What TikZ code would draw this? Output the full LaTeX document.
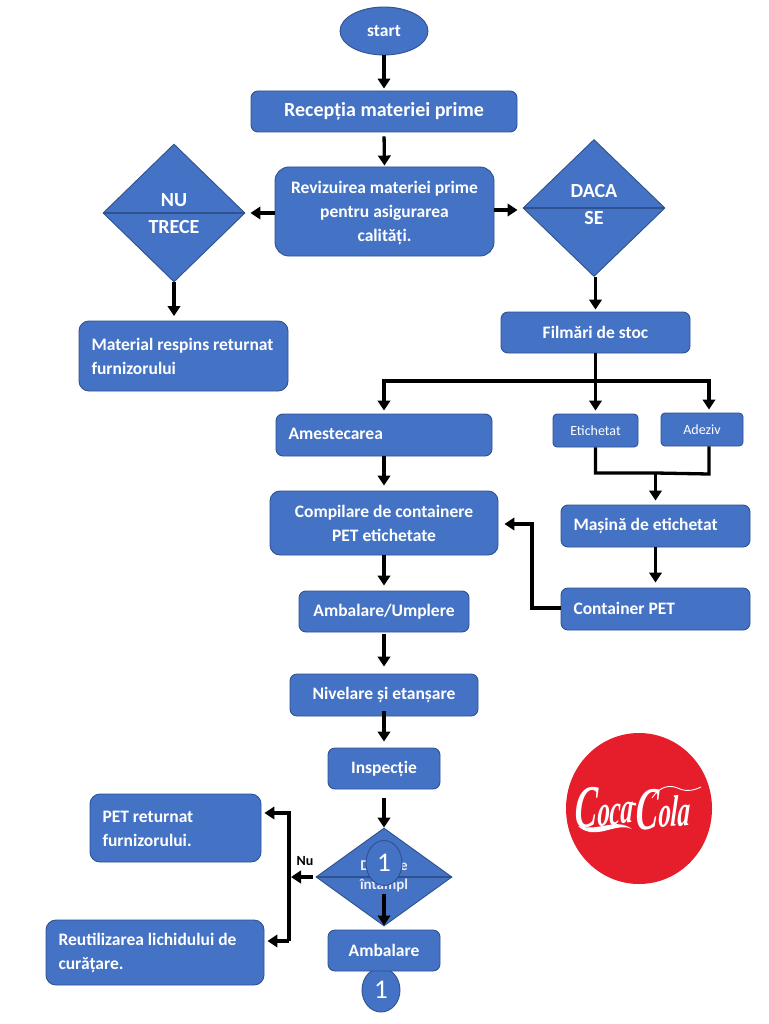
\documentclass[tikz,border=0pt]{standalone}
\usepackage{fontspec}
\setmainfont{Carlito}
\newfontfamily\logofont{Liberation Serif}
\usetikzlibrary{shapes.geometric,arrows.meta}
\definecolor{boxblue}{HTML}{4472C4}
\definecolor{boxedge}{HTML}{2F528F}
\definecolor{cocared}{HTML}{E61D2B}
\newcommand{\sz}[2]{\fontsize{#1}{#2}\selectfont}
\tikzset{
  x=1pt,y=-1pt,
  fillshape/.style={fill=boxblue,draw=boxedge,line width=0.9pt,inner sep=0pt,text=white,font=\bfseries\sz{17.5}{24}},
  boxc/.style={fillshape,rectangle,rounded corners=7pt,align=center},
  boxl/.style={fillshape,rectangle,rounded corners=10pt,align=flush left,inner xsep=12.5pt,text width=#1-25pt},
  thin box/.style={fillshape,rectangle,rounded corners=4pt,align=center,font=\sz{14}{16}},
  dia/.style={fillshape,diamond},
  oval/.style={fillshape,ellipse},
  big/.style={text=white,inner sep=0pt,font=\bfseries\sz{20}{22}},
  divider/.style={boxedge,line width=1.2pt},
  arr/.style={draw=black,line width=3.3pt,line join=miter,-{Triangle[length=10pt,width=12.5pt]}},
  seg/.style={draw=black,line width=3.3pt,line join=miter},
  logotext/.style={text=white,inner sep=0pt,xscale=0.56,xslant=0.14,rotate=3,font=\logofont\bfseries\itshape\sz{44}{46}},
}
\begin{document}
\begin{tikzpicture}
\useasboundingbox (0,0) rectangle (768,1024);
\fill[white] (0,0) rectangle (768,1024);
% top
\node[oval,minimum width=88pt,minimum height=48pt] (start) at (384,31) {start};
\node[boxc,minimum width=266pt,minimum height=41pt,font=\bfseries\sz{20}{22}] (recep) at (384,111.5) {Recepția materiei prime};
\node[boxc,rounded corners=14pt,minimum width=219pt,minimum height=89pt] (rev) at (384.5,211.5) {\rule{0pt}{15pt}Revizuirea materiei prime\\pentru asigurarea\\calități.};
% diamonds
\node[dia,minimum width=142pt,minimum height=138pt] (nu) at (174,213) {};
\draw[divider] (nu.west) -- (nu.east);
\node[big] (nut) at (174,200) {NU};
\node[big] (nub) at (174,227) {TRECE};
\node[dia,minimum width=142pt,minimum height=137pt] (daca) at (594,208) {};
\draw[divider] (daca.west) -- (daca.east);
\node[big] (dat) at (594,191) {DACA};
\node[big] (dab) at (594,218) {SE};
\node[boxl=209pt,minimum height=70pt] (mat) at (183.5,356) {\mbox{Material respins returnat}\\furnizorului};
\node[boxc,minimum width=189pt,minimum height=41pt] (film) at (595.5,332.5) {Filmări de stoc};
\node[boxl=216pt,rounded corners=7pt,minimum height=42pt] (ames) at (384,435) {\raisebox{1.5pt}{Amestecarea}};
\node[thin box,minimum width=85pt,minimum height=33pt] (etic) at (595.5,430.5) {Etichetat};
\node[thin box,minimum width=82pt,minimum height=33pt] (adez) at (702,429.5) {Adeziv};
\node[boxc,rounded corners=10pt,minimum width=228pt,minimum height=64pt] (comp) at (384,523) {Compilare de containere\\PET etichetate};
\node[boxl=189pt,rounded corners=7pt,minimum height=42pt] (masina) at (655.5,526) {\raisebox{-1pt}{Mașină de etichetat}};
\node[boxl=189pt,rounded corners=7pt,minimum height=42pt] (cont) at (655.5,609) {\raisebox{1pt}{Container PET}};
\node[boxc,minimum width=170pt,minimum height=41pt] (umpl) at (384,611.5) {\raisebox{-1.5pt}{Ambalare/Umplere}};
\node[boxc,minimum width=188pt,minimum height=42pt] (niv) at (384,695) {\raisebox{-1.5pt}{Nivelare și etanșare}};
\node[boxc,minimum width=112pt,minimum height=41pt] (insp) at (384,768.5) {\raisebox{-1.5pt}{Inspecție}};
% decision
\node[dia,minimum width=136pt,minimum height=98pt] (dec) at (384,877) {};
\draw[divider] (dec.west) -- (dec.east);
\node[text=white!88!boxblue,inner sep=0pt,font=\bfseries\sz{15}{17}] (dect) at (384,865) {Dacă se};
\node[text=white!88!boxblue,inner sep=0pt,font=\bfseries\sz{15}{17}] (decb) at (384,885) {întâmpl};
\node[oval,minimum width=36pt,minimum height=45pt,font=\sz{27}{29}] (c1) at (384,863) {\raisebox{-2pt}{1}};
\node[oval,minimum width=38pt,minimum height=44pt,font=\sz{27}{29}] (c2) at (381,990) {1};
\node[boxc,minimum width=112pt,minimum height=41pt] (amb) at (384,950.5) {\raisebox{-1pt}{Ambalare}};
\node[boxl=171pt,minimum height=68pt] (pet) at (175.5,828) {\rule{0pt}{13pt}PET returnat\\furnizorului.};
\node[boxl=218pt,minimum height=65pt] (reut) at (155,952.5) {\rule{0pt}{13pt}Reutilizarea lichidului de\\curățare.};
\node[text=black,font=\bfseries\sz{14}{15},inner sep=0pt] (nulbl) at (305,861) {Nu};
% connectors
\draw[arr,shorten >=2pt] (start.south) -- (recep.north);
\draw[arr,shorten <=4pt,shorten >=1pt] (recep.south) -- (rev.north);
\draw[arr,shorten >=5pt] (nu.east -| rev.west) -- (nu.east);
\coordinate (revr) at (494,210);
\draw[arr,shorten >=5pt] (revr) -- (revr -| daca.west);
\coordinate (nudown) at (174,316);
\draw[arr] (nu.south) -- (nudown);
\draw[arr,shorten >=2pt] (daca.south -| film.north) -- (film.north);
\coordinate (tree) at (595.5,381);
\coordinate (treeL) at (384,381);
\coordinate (treeR) at (709,381);
\draw[seg] (film.south) -- (tree);
\draw[arr,shorten >=3pt] (tree) -- (etic.north);
\draw[arr,shorten >=3pt] (treeR) -- (treeR |- adez.north);
\draw[arr,shorten >=3pt] (treeL) -- (ames.north);
\draw[seg,line cap=rect] (treeL) -- (treeR);
\draw[arr,shorten >=5pt] (ames.south) -- (comp.north);
\coordinate (jn) at (655.5,473);
\coordinate (jr) at (709,474);
\draw[seg] (etic.south) |- (jn) -- (jr) -- (jr |- adez.south);
\draw[arr,shorten >=4pt] (jn) -- (masina.north);
\draw[arr,shorten >=5pt] (masina.south) -- (cont.north);
\coordinate (ca) at (561,608);
\coordinate (cb) at (532,524);
\draw[arr,shorten >=6pt] (ca) -| (cb) -- (cb -| comp.east);
\draw[arr,shorten >=5pt] (comp.south) -- (umpl.north);
\draw[arr,shorten >=7pt,shorten <=2pt] (umpl.south) -- (niv.north);
\draw[arr,shorten >=6pt,shorten <=-5pt] (niv.south) -- (insp.north);
\draw[arr,shorten <=9pt] (insp.south) -- (dec.north);
\coordinate (decin) at (384,894);
\draw[arr,shorten >=4pt] (decin) -- (amb.north);
\coordinate (up) at (289,813);
\coordinate (low) at (289,941);
\coordinate (bus) at (289,877);
\draw[arr,shorten <=3pt,shorten >=2pt] (dec.west) -- (bus);
\draw[arr,shorten >=3pt] (low) -- (up) -- (up -| pet.east);
\draw[arr,shorten >=3pt] (low) -- (low -| reut.east);
% logo
\node[ellipse,fill=cocared,inner sep=0pt,minimum width=146pt,minimum height=151pt] (logo) at (639,808.5) {};
\node[logotext] (logoa) at (605,806) {{\sz{60}{46}C}oca};
\node[logotext] (logob) at (664,808) {{\sz{60}{46}C}ola};
\fill[white] (629,802) -- (636,803) -- (636,805.5) -- (629,804.5) -- cycle;
\fill[white] (578,826) .. controls (600,832) and (615,817) .. (632,829) .. controls (618,823) and (606,834) .. (590,832) .. controls (585,831) and (581,829) .. (578,826) -- cycle;
\draw[white,line width=0.9pt] (652,798) .. controls (660,786) and (670,784) .. (680,789) .. controls (688,792) and (695,790) .. (701,787);
\end{tikzpicture}
\end{document}
